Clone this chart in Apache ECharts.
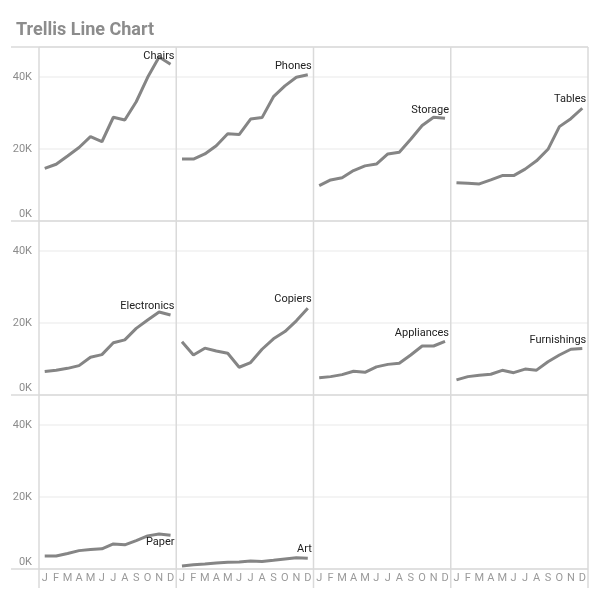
<!DOCTYPE html>
<html><head><meta charset="utf-8">
<script src="https://cdn.jsdelivr.net/npm/echarts@6/dist/echarts.min.js"></script>
<style>html,body{margin:0;padding:0;background:#fff}#c{width:600px;height:600px}</style>
</head><body><div id="c"></div>
<script>
// ---- data ----
const months = ['J','F','M','A','M','J','J','A','S','O','N','D'];
const categories = ['Chairs','Phones','Storage','Tables','Electronics','Copiers','Appliances','Furnishings','Paper','Art'];
const chairs      = [14600,15750,18050,20400,23400,22000,28800,28050,33100,39900,45500,43500];
const phones      = [17200,17200,18600,20900,24200,24000,28300,28700,34500,37500,39900,40600];
const storage     = [9800,11400,12000,14000,15300,15800,18600,19100,22700,26500,28800,28500];
const tables      = [10650,10500,10300,11400,12600,12600,14400,16700,19900,26200,28400,31300];
const electronics = [6500,6850,7400,8150,10500,11200,14500,15300,18500,20800,23050,22200];
const copiers     = [14800,11100,13000,12200,11600,7700,9000,12700,15600,17600,20600,24100];
const appliances  = [4800,5100,5650,6600,6300,7800,8500,8800,11100,13600,13600,14900];
const furnishings = [4200,5100,5500,5750,6850,6200,7200,6900,9250,11100,12700,12900];
const paper       = [3600,3600,4300,5100,5400,5600,6950,6700,7900,9200,9700,9400];
const art         = [850,1200,1400,1650,1850,1950,2200,2050,2400,2800,3150,3000];
const seriesValues = [chairs,phones,storage,tables,electronics,copiers,appliances,furnishings,paper,art];
const yTicks = [0,20000,40000];
const yMax = 48300;

// ---- layout ----
const L = 39, T = 47, CW = 137.25, RH = 174, COLS = 4, ROWS = 3;
const LINE = '#dadada';
const FONT = 'Roboto';

const grids = [], xAxes = [], yAxes = [], series = [], graphics = [];
for (let i = 0; i < ROWS * COLS; i++) {
  const r = Math.floor(i / COLS), c = i % COLS;
  grids.push({left: L + c * CW, top: T + r * RH, width: CW, height: RH, show: false, containLabel: false});
  xAxes.push({
    type: 'category', gridIndex: i, data: months, boundaryGap: true,
    axisLine: {show: false}, axisTick: {show: false}, splitLine: {show: false},
    axisLabel: {show: r === ROWS - 1, interval: 0, color: '#9a9a9a', fontSize: 11, fontFamily: FONT, margin: 4}
  });
  yAxes.push({
    type: 'value', gridIndex: i, min: 0, max: yMax, interval: 20000,
    axisLine: {show: false}, axisTick: {show: false},
    splitLine: {show: true, lineStyle: {color: '#f1f1f1', width: 1.5}},
    axisLabel: {
      show: c === 0, showMaxLabel: false, color: '#8c8c8c', fontSize: 11, fontFamily: FONT, margin: 7,
      formatter: v => v === 0 ? '{z|0K}' : (yTicks.indexOf(v) >= 0 ? (v / 1000) + 'K' : ''),
      rich: {z: {color: '#8c8c8c', fontSize: 11, fontFamily: FONT, padding: [0, 0, 14, 0]}}
    }
  });
}
categories.forEach((name, i) => {
  const vals = seriesValues[i];
  const below = name === 'Paper';
  const data = vals.map((v, k) => k === vals.length - 1 ? {
    value: v,
    label: {show: true, formatter: name, position: below ? 'bottom' : 'top', align: 'right',
            distance: below ? 2 : 3, offset: [4, 0], color: '#222', fontSize: 11, fontFamily: FONT}
  } : v);
  series.push({
    type: 'line', name, xAxisIndex: i, yAxisIndex: i, data,
    symbol: 'circle', symbolSize: 0, showSymbol: true, showAllSymbol: true,
    lineStyle: {color: '#858585', width: 3}, itemStyle: {color: '#858585'},
    label: {show: false}, silent: true, animation: false, z: 3
  });
});
// frame lines (decoration)
for (let r = 0; r <= ROWS; r++) {
  graphics.push({type: 'line', shape: {x1: 11, y1: T + r * RH, x2: L + COLS * CW, y2: T + r * RH},
    style: {stroke: LINE, lineWidth: 1.5}, z: 1});
}
for (let c = 0; c <= COLS; c++) {
  graphics.push({type: 'line', shape: {x1: L + c * CW, y1: T, x2: L + c * CW, y2: 588},
    style: {stroke: LINE, lineWidth: 1.5}, z: 1});
}

const chart = echarts.init(document.getElementById('c'));
chart.setOption({
  animation: false,
  backgroundColor: '#fff',
  title: {text: 'Trellis Line Chart', left: 11, top: 16,
    textStyle: {color: '#8c8c8c', fontSize: 18, fontWeight: 'bold', fontFamily: FONT}},
  grid: grids, xAxis: xAxes, yAxis: yAxes, series, graphic: graphics
});
</script></body></html>
